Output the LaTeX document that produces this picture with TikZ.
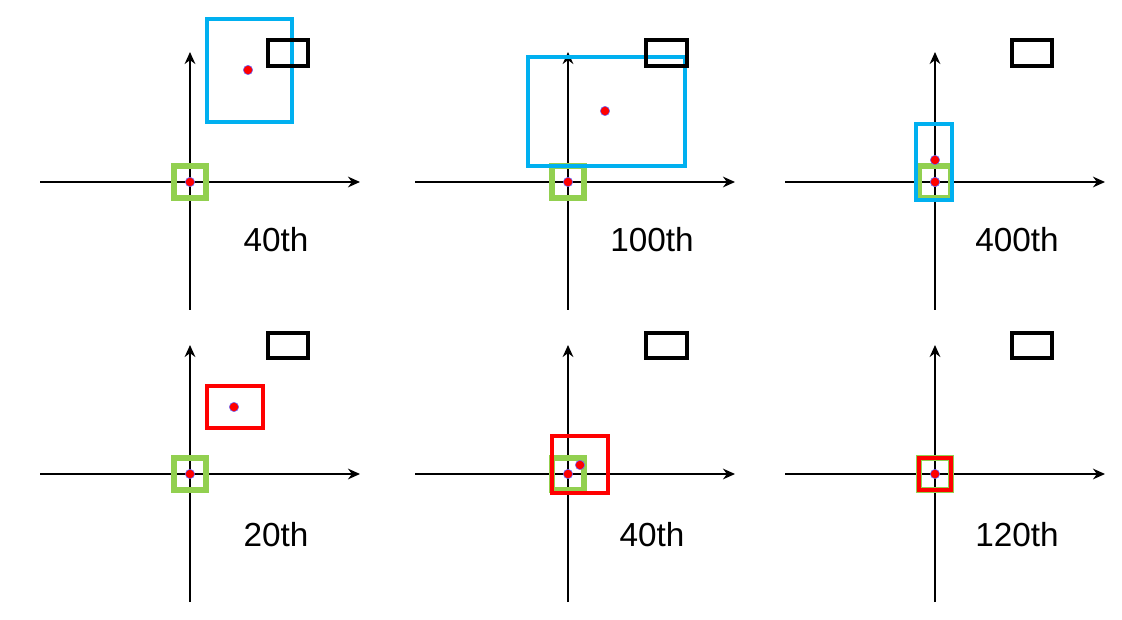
\documentclass[tikz,border=0pt]{standalone}
\usepackage{fontspec}
\setmainfont{Liberation Sans}
\usetikzlibrary{arrows.meta}
\definecolor{gr}{RGB}{146,208,80}
\definecolor{bl}{RGB}{0,176,240}
\definecolor{rd}{RGB}{255,0,0}
\tikzset{
 ax/.style={line width=1.9pt,-{Stealth[length=9pt,width=8pt]}},
 gbox/.style={draw=gr,line width=4pt},
 bbox/.style={draw=bl,line width=3pt},
 rbox/.style={draw=rd,line width=3pt},
 kbox/.style={draw=black,line width=3.2pt},
 dot/.style={circle,fill=rd,draw=blue!60,line width=0.4pt,inner sep=0pt,minimum size=7pt},
 lab/.style={font=\fontsize{25pt}{25pt}\selectfont}
}
\begin{document}
\begin{tikzpicture}[x=0.75pt,y=-0.75pt]
\useasboundingbox (0,0) rectangle (1122,620);
% row 1
\foreach \cx/\xa/\xb/\n in {190/40/360/a,568/415/735/b,935/785/1105/c}{
 \coordinate (h1\n) at (\xa,182); \coordinate (h2\n) at (\xb,182);
 \coordinate (v1\n) at (\cx,310); \coordinate (v2\n) at (\cx,52);
 \draw[ax] (h1\n) -- (h2\n); \draw[ax] (v1\n) -- (v2\n);
 \draw[gbox] (\cx-16,166) rectangle (\cx+16,198);
 \node[dot] (o\n) at (\cx,182) {};
 \coordinate (H1\n) at (\xa,474); \coordinate (H2\n) at (\xb,474);
 \coordinate (V1\n) at (\cx,602); \coordinate (V2\n) at (\cx,345);
 \draw[ax] (H1\n) -- (H2\n); \draw[ax] (V1\n) -- (V2\n);
 \draw[gbox] (\cx-16,458) rectangle (\cx+16,490);
}
\draw[bbox] (207,19) rectangle (292,122); \node[dot] (d1) at (248,70) {};
\draw[kbox] (268,40) rectangle (308,66);
\node[lab] (l1) at (276,240) {40th};
\draw[bbox] (528,57) rectangle (685,166); \node[dot] (d2) at (605,111) {};
\draw[kbox] (646,40) rectangle (687,66);
\node[lab] (l2) at (652,240) {100th};
\draw[bbox] (916,124) rectangle (952,200); \node[dot] (d3) at (935,160) {};
\node[dot] (o3b) at (935,182) {};
\draw[kbox] (1012,40) rectangle (1052,66);
\node[lab] (l3) at (1017,240) {400th};
% row 2
\draw[rbox] (207,386) rectangle (263,428); \node[dot] (d4) at (234,407) {};
\node[dot] (p1) at (190,474) {};
\draw[kbox] (268,333) rectangle (308,358);
\node[lab] (l4) at (276,535) {20th};
\draw[rbox] (552,436) rectangle (608,493); \node[dot] (p2) at (568,474) {};
\node[dot] (d5) at (580,465) {};
\draw[kbox] (646,333) rectangle (687,358);
\node[lab] (l5) at (652,535) {40th};
\draw[rbox] (919,458) rectangle (951,490); \node[dot] (p3) at (935,474) {};
\draw[kbox] (1012,333) rectangle (1052,358);
\node[lab] (l6) at (1017,535) {120th};
\end{tikzpicture}
\end{document}
